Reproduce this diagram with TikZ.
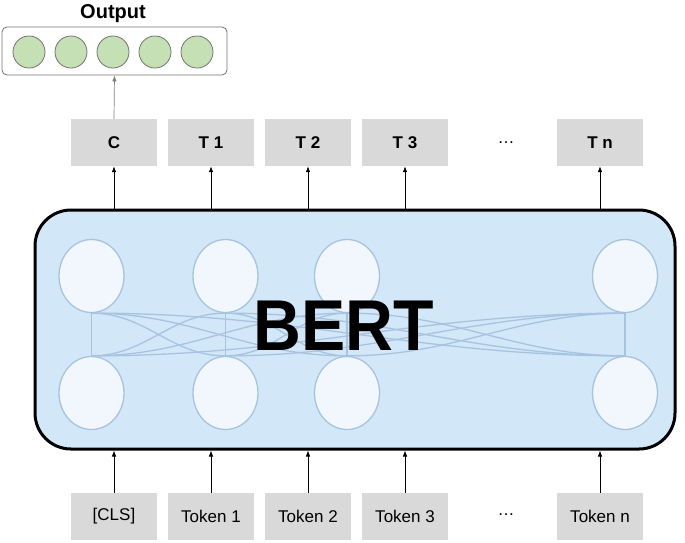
\documentclass[tikz,border=0pt]{standalone}
\usepackage{fontspec}
\setmainfont{Liberation Sans}
\usepackage{xcolor}
\usepackage{tikz}
\usetikzlibrary{shapes.geometric,arrows.meta}
\definecolor{bertfill}{HTML}{D2E7F8}
\definecolor{cellfill}{HTML}{F1F7FD}
\definecolor{celledge}{HTML}{A6C4E0}
\definecolor{boxgray}{HTML}{D9D9D9}
\definecolor{outgreen}{HTML}{C5E0B4}
\pgfkeys{tikz/tokenbox/.style={fill=boxgray,minimum width=86pt,minimum height=47pt,inner sep=0pt,font=\fontsize{17}{17}\selectfont}}
\pgfkeys{tikz/cell/.style={ellipse,draw=celledge,line width=1.3pt,fill=cellfill,minimum width=65pt,minimum height=73pt,inner sep=0pt}}
\pgfkeys{tikz/wire/.style={draw=celledge,line width=1.3pt}}
\pgfkeys{tikz/feed/.style={-{Latex[length=6pt,width=4.5pt]},line width=0.7pt}}
\pgfkeys{tikz/outdot/.style={circle,draw=black!55,fill=outgreen,line width=0.8pt,minimum size=32pt,inner sep=0pt}}

\begin{document}
\begin{tikzpicture}[x=1pt,y=-1pt]
    \useasboundingbox (0,0) rectangle (685,542);
    \node[font=\fontsize{20}{20}\selectfont\bfseries] (outlabel) at (113,14) {Output};
    \node[draw=black!55,fill=white,rounded corners=5pt,line width=0.8pt,minimum width=225pt,minimum height=48pt] (outbox) at (114.5,51) {};
    \foreach \i/\x in {1/29,2/71,3/113,4/155,5/197}
        \node[outdot] (out-\i) at (\x,52) {};
    \node[draw,line width=3pt,fill=bertfill,rounded corners=36pt,minimum width=640pt,minimum height=239pt] (bert) at (355,329.5) {};
    \foreach \c/\x in {1/91.5,2/225.5,3/347,4/625} {
        \node[cell] (top-\c) at (\x,276) {};
        \node[cell] (bot-\c) at (\x,393) {};
    }
    \foreach \i in {1,...,4}
        \foreach \j in {1,...,4} {
            \ifnum\i=\j
                \draw[wire] (top-\i.south) -- (bot-\j.north);
            \else\ifnum\i<\j
                \draw[wire] (top-\i.south) to[out=0,in=180] (bot-\j.north);
            \else
                \draw[wire] (top-\i.south) to[out=180,in=0] (bot-\j.north);
            \fi\fi
        }
    \node[font=\fontsize{72}{72}\selectfont\bfseries] (bertlabel) at (344,326) {\scalebox{0.92}[1]{BERT}};
    \foreach \k/\x/\t/\b in {0/114/C/{[CLS]},1/211/T 1/Token 1,2/308/T 2/Token 2,3/405/T 3/Token 3,4/600/T n/Token n} {
        \node[tokenbox,font=\fontsize{17}{17}\selectfont\bfseries] (o-\k) at (\x,142.5) {\t};
        \node[tokenbox] (in-\k) at (\x,516.5) {\b};
        \draw[feed] (bert.north -| o-\k.south) -- (o-\k.south);
        \draw[feed] (in-\k.north) -- (in-\k.north |- bert.south);
    }
    \node[font=\fontsize{17}{17}\selectfont] (odots) at (506,143) {…};
    \node[font=\fontsize{17}{17}\selectfont] (idots) at (506,515) {…};
    \draw[feed,draw=black!50] (o-0.north) -- (outbox.south);
\end{tikzpicture}
\end{document}
